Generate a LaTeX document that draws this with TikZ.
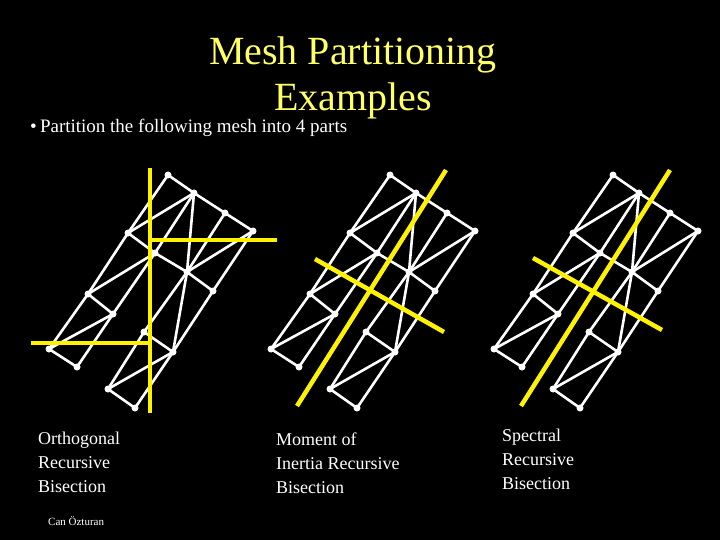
\documentclass[tikz,border=0pt]{standalone}
\usepackage{fontspec}
\setmainfont{Liberation Serif}
\definecolor{titley}{HTML}{FFFF66}
\begin{document}
\begin{tikzpicture}[x=1pt,y=-1pt,
  dot/.style={circle,fill=white,inner sep=0pt,minimum size=7pt},
  edge/.style={white,line width=2.6pt},
  cut/.style={yellow,line width=4.5pt},
  txt/.style={white,anchor=west,align=left,font=\fontsize{18}{24}\selectfont,inner sep=0pt}]
\fill[black] (0,0) rectangle (720,540);
\useasboundingbox (0,0) rectangle (720,540);
\node[titley,font=\fontsize{40}{46}\selectfont,align=center,inner sep=0pt] (title) at (353,78) {Mesh Partitioning\\Examples};
\node[white,anchor=west,font=\fontsize{19}{22}\selectfont,inner sep=0pt] (sub) at (30,128) {\textbullet\,Partition the following mesh into 4 parts};
\foreach \m/\dx in {1/0,2/222,3/445}{
  \foreach \n/\x/\y in {A/168/175,B/194/193,C/225/213,D/253/231,E/128/233,F/155/253,G/187/272,H/213/291,I/88/294,J/113/314,K/144/332,L/173/352,M/49/349,N/77/367,O/108/389,P/135/408}{
    \coordinate (m\m\n) at (\x+\dx,\y);
  }
  \foreach \a/\b in {A/B,B/C,C/D,A/E,E/I,I/M,B/E,B/F,B/G,C/G,D/G,D/H,E/F,F/G,G/H,F/I,F/J,I/J,J/M,J/N,M/N,G/K,G/L,H/L,K/L,K/O,L/O,O/P,L/P}{
    \draw[edge] (m\m\a) -- (m\m\b);
  }
  \foreach \n in {A,B,C,D,E,F,G,H,I,J,K,L,M,N,O,P}{
    \node[dot] (d\m\n) at (m\m\n) {};
  }
}
% cuts mesh 1
\coordinate (c1a) at (150,168); \coordinate (c1b) at (150,413);
\coordinate (c1c) at (150,240); \coordinate (c1d) at (277,240);
\coordinate (c1e) at (31,343); \coordinate (c1f) at (150,343);
\draw[cut] (c1a) -- (c1b); \draw[cut] (c1c) -- (c1d); \draw[cut] (c1e) -- (c1f);
% mesh 2
\coordinate (c2a) at (446,170); \coordinate (c2b) at (297,406);
\coordinate (c2c) at (315,259); \coordinate (c2d) at (444,332);
\draw[cut] (c2a) -- (c2b); \draw[cut] (c2c) -- (c2d);
% mesh 3
\coordinate (c3a) at (670,170); \coordinate (c3b) at (521,406);
\coordinate (c3c) at (533,258); \coordinate (c3d) at (662,330);
\draw[cut] (c3a) -- (c3b); \draw[cut] (c3c) -- (c3d);
\node[txt] (l1) at (38,462) {Orthogonal\\Recursive\\Bisection};
\node[txt] (l2) at (276,463) {Moment of\\Inertia Recursive\\Bisection};
\node[txt] (l3) at (502,459) {Spectral\\Recursive\\Bisection};
\node[white,anchor=west,inner sep=0pt,font=\fontsize{11}{13}\selectfont] (auth) at (48,521) {Can Özturan};
\end{tikzpicture}
\end{document}
